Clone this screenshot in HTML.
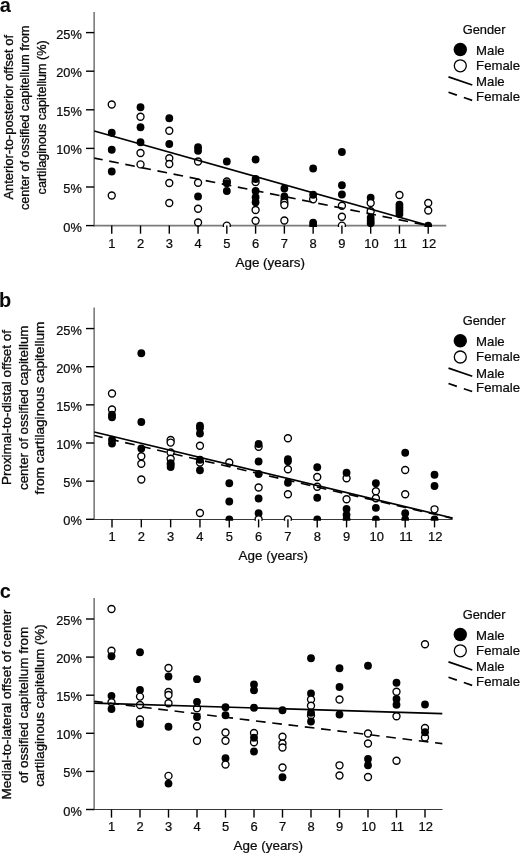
<!DOCTYPE html>
<html lang="en"><head><meta charset="utf-8"><title>Figure</title>
<style>html,body{margin:0;padding:0;background:#fff}body{width:520px;height:854px;overflow:hidden}svg{display:block}text{font-family:"Liberation Sans", sans-serif;fill:#0a0a0a;stroke:#0a0a0a;stroke-width:0.22px}text.yl{stroke-width:0.32px}text.pl{stroke-width:0}</style>
</head><body>
<svg width="520" height="854" viewBox="0 0 520 854">
<rect width="520" height="854" fill="#fff"/>
<g>
<line x1="94.15" y1="12.00" x2="94.15" y2="226.40" stroke="#7b7b7b" stroke-width="1.60"/>
<line x1="94.15" y1="225.60" x2="446.25" y2="225.60" stroke="#7b7b7b" stroke-width="1.60"/>
<clipPath id="clipa"><rect x="94.15" y="12.00" width="356.10" height="215.10"/></clipPath>
<g clip-path="url(#clipa)">
<circle cx="111.75" cy="104.50" r="3.50" fill="#fff" stroke="#000" stroke-width="1.35"/>
<circle cx="111.75" cy="132.75" r="3.90" fill="#000"/>
<circle cx="111.75" cy="149.75" r="3.90" fill="#000"/>
<circle cx="111.75" cy="171.50" r="3.90" fill="#000"/>
<circle cx="111.75" cy="195.50" r="3.50" fill="#fff" stroke="#000" stroke-width="1.35"/>
<circle cx="140.52" cy="107.25" r="3.90" fill="#000"/>
<circle cx="140.52" cy="116.75" r="3.50" fill="#fff" stroke="#000" stroke-width="1.35"/>
<circle cx="140.52" cy="127.25" r="3.90" fill="#000"/>
<circle cx="140.52" cy="142.25" r="3.90" fill="#000"/>
<circle cx="140.52" cy="153.00" r="3.50" fill="#fff" stroke="#000" stroke-width="1.35"/>
<circle cx="140.52" cy="164.40" r="3.50" fill="#fff" stroke="#000" stroke-width="1.35"/>
<circle cx="169.29" cy="118.25" r="3.90" fill="#000"/>
<circle cx="169.29" cy="130.75" r="3.50" fill="#fff" stroke="#000" stroke-width="1.35"/>
<circle cx="169.29" cy="144.00" r="3.90" fill="#000"/>
<circle cx="169.29" cy="158.25" r="3.50" fill="#fff" stroke="#000" stroke-width="1.35"/>
<circle cx="169.29" cy="164.00" r="3.50" fill="#fff" stroke="#000" stroke-width="1.35"/>
<circle cx="169.29" cy="183.00" r="3.50" fill="#fff" stroke="#000" stroke-width="1.35"/>
<circle cx="169.29" cy="203.00" r="3.50" fill="#fff" stroke="#000" stroke-width="1.35"/>
<circle cx="198.06" cy="147.25" r="3.90" fill="#000"/>
<circle cx="198.06" cy="150.75" r="3.90" fill="#000"/>
<circle cx="198.06" cy="161.50" r="3.50" fill="#fff" stroke="#000" stroke-width="1.35"/>
<circle cx="198.06" cy="182.70" r="3.50" fill="#fff" stroke="#000" stroke-width="1.35"/>
<circle cx="198.06" cy="196.50" r="3.90" fill="#000"/>
<circle cx="198.06" cy="208.75" r="3.50" fill="#fff" stroke="#000" stroke-width="1.35"/>
<circle cx="198.06" cy="222.50" r="3.50" fill="#fff" stroke="#000" stroke-width="1.35"/>
<circle cx="226.83" cy="161.50" r="3.90" fill="#000"/>
<circle cx="226.83" cy="181.50" r="3.50" fill="#fff" stroke="#000" stroke-width="1.35"/>
<circle cx="226.83" cy="183.25" r="3.90" fill="#000"/>
<circle cx="226.83" cy="191.00" r="3.90" fill="#000"/>
<circle cx="226.83" cy="225.60" r="3.50" fill="#fff" stroke="#000" stroke-width="1.35"/>
<circle cx="255.60" cy="159.50" r="3.90" fill="#000"/>
<circle cx="255.60" cy="182.00" r="3.50" fill="#fff" stroke="#000" stroke-width="1.35"/>
<circle cx="255.60" cy="179.00" r="3.90" fill="#000"/>
<circle cx="255.60" cy="191.00" r="3.90" fill="#000"/>
<circle cx="255.60" cy="197.25" r="3.90" fill="#000"/>
<circle cx="255.60" cy="202.25" r="3.90" fill="#000"/>
<circle cx="255.60" cy="210.00" r="3.50" fill="#fff" stroke="#000" stroke-width="1.35"/>
<circle cx="255.60" cy="220.75" r="3.50" fill="#fff" stroke="#000" stroke-width="1.35"/>
<circle cx="284.37" cy="188.50" r="3.90" fill="#000"/>
<circle cx="284.37" cy="196.50" r="3.90" fill="#000"/>
<circle cx="284.37" cy="199.75" r="3.90" fill="#000"/>
<circle cx="284.37" cy="202.50" r="3.50" fill="#fff" stroke="#000" stroke-width="1.35"/>
<circle cx="284.37" cy="205.00" r="3.50" fill="#fff" stroke="#000" stroke-width="1.35"/>
<circle cx="284.37" cy="220.50" r="3.50" fill="#fff" stroke="#000" stroke-width="1.35"/>
<circle cx="313.14" cy="168.50" r="3.90" fill="#000"/>
<circle cx="313.14" cy="199.25" r="3.50" fill="#fff" stroke="#000" stroke-width="1.35"/>
<circle cx="313.14" cy="194.75" r="3.90" fill="#000"/>
<circle cx="313.14" cy="222.75" r="3.90" fill="#000"/>
<circle cx="313.14" cy="225.60" r="3.90" fill="#000"/>
<circle cx="341.91" cy="152.00" r="3.90" fill="#000"/>
<circle cx="341.91" cy="185.25" r="3.90" fill="#000"/>
<circle cx="341.91" cy="194.50" r="3.90" fill="#000"/>
<circle cx="341.91" cy="205.75" r="3.50" fill="#fff" stroke="#000" stroke-width="1.35"/>
<circle cx="341.91" cy="216.75" r="3.50" fill="#fff" stroke="#000" stroke-width="1.35"/>
<circle cx="341.91" cy="225.60" r="3.50" fill="#fff" stroke="#000" stroke-width="1.35"/>
<circle cx="370.68" cy="197.75" r="3.90" fill="#000"/>
<circle cx="370.68" cy="203.00" r="3.50" fill="#fff" stroke="#000" stroke-width="1.35"/>
<circle cx="370.68" cy="211.25" r="3.50" fill="#fff" stroke="#000" stroke-width="1.35"/>
<circle cx="370.68" cy="217.75" r="3.90" fill="#000"/>
<circle cx="370.68" cy="220.75" r="3.90" fill="#000"/>
<circle cx="370.68" cy="223.25" r="3.90" fill="#000"/>
<circle cx="399.45" cy="195.00" r="3.50" fill="#fff" stroke="#000" stroke-width="1.35"/>
<circle cx="399.45" cy="204.75" r="3.90" fill="#000"/>
<circle cx="399.45" cy="207.75" r="3.90" fill="#000"/>
<circle cx="399.45" cy="210.75" r="3.90" fill="#000"/>
<circle cx="399.45" cy="214.00" r="3.90" fill="#000"/>
<circle cx="428.22" cy="203.00" r="3.50" fill="#fff" stroke="#000" stroke-width="1.35"/>
<circle cx="428.22" cy="210.50" r="3.50" fill="#fff" stroke="#000" stroke-width="1.35"/>
<circle cx="428.22" cy="225.60" r="3.90" fill="#000"/>
</g>
<line x1="94.25" y1="131.00" x2="427.80" y2="225.30" stroke="#000" stroke-width="1.7"/>
<line x1="94.25" y1="158.10" x2="427.60" y2="225.50" stroke="#000" stroke-width="1.6" stroke-dasharray="9.7 6.7" stroke-dashoffset="1.1"/>
<line x1="86" y1="225.60" x2="94.15" y2="225.60" stroke="#000" stroke-width="1.40"/>
<text x="81.8" y="231.60" font-size="12.80" text-anchor="end">0%</text>
<line x1="86" y1="187.00" x2="94.15" y2="187.00" stroke="#000" stroke-width="1.40"/>
<text x="81.8" y="193.00" font-size="12.80" text-anchor="end">5%</text>
<line x1="86" y1="148.40" x2="94.15" y2="148.40" stroke="#000" stroke-width="1.40"/>
<text x="81.8" y="154.40" font-size="12.80" text-anchor="end">10%</text>
<line x1="86" y1="109.80" x2="94.15" y2="109.80" stroke="#000" stroke-width="1.40"/>
<text x="81.8" y="115.80" font-size="12.80" text-anchor="end">15%</text>
<line x1="86" y1="71.20" x2="94.15" y2="71.20" stroke="#000" stroke-width="1.40"/>
<text x="81.8" y="77.20" font-size="12.80" text-anchor="end">20%</text>
<line x1="86" y1="32.60" x2="94.15" y2="32.60" stroke="#000" stroke-width="1.40"/>
<text x="81.8" y="38.60" font-size="12.80" text-anchor="end">25%</text>
<line x1="111.75" y1="225.60" x2="111.75" y2="233.70" stroke="#000" stroke-width="1.40"/>
<text x="111.75" y="247.50" font-size="12.95" text-anchor="middle">1</text>
<line x1="140.52" y1="225.60" x2="140.52" y2="233.70" stroke="#000" stroke-width="1.40"/>
<text x="140.52" y="247.50" font-size="12.95" text-anchor="middle">2</text>
<line x1="169.29" y1="225.60" x2="169.29" y2="233.70" stroke="#000" stroke-width="1.40"/>
<text x="169.29" y="247.50" font-size="12.95" text-anchor="middle">3</text>
<line x1="198.06" y1="225.60" x2="198.06" y2="233.70" stroke="#000" stroke-width="1.40"/>
<text x="198.06" y="247.50" font-size="12.95" text-anchor="middle">4</text>
<line x1="226.83" y1="225.60" x2="226.83" y2="233.70" stroke="#000" stroke-width="1.40"/>
<text x="226.83" y="247.50" font-size="12.95" text-anchor="middle">5</text>
<line x1="255.60" y1="225.60" x2="255.60" y2="233.70" stroke="#000" stroke-width="1.40"/>
<text x="255.60" y="247.50" font-size="12.95" text-anchor="middle">6</text>
<line x1="284.37" y1="225.60" x2="284.37" y2="233.70" stroke="#000" stroke-width="1.40"/>
<text x="284.37" y="247.50" font-size="12.95" text-anchor="middle">7</text>
<line x1="313.14" y1="225.60" x2="313.14" y2="233.70" stroke="#000" stroke-width="1.40"/>
<text x="313.14" y="247.50" font-size="12.95" text-anchor="middle">8</text>
<line x1="341.91" y1="225.60" x2="341.91" y2="233.70" stroke="#000" stroke-width="1.40"/>
<text x="341.91" y="247.50" font-size="12.95" text-anchor="middle">9</text>
<line x1="370.68" y1="225.60" x2="370.68" y2="233.70" stroke="#000" stroke-width="1.40"/>
<text x="371.48" y="247.50" font-size="12.95" text-anchor="middle">10</text>
<line x1="399.45" y1="225.60" x2="399.45" y2="233.70" stroke="#000" stroke-width="1.40"/>
<text x="400.25" y="247.50" font-size="12.95" text-anchor="middle">11</text>
<line x1="428.22" y1="225.60" x2="428.22" y2="233.70" stroke="#000" stroke-width="1.40"/>
<text x="429.02" y="247.50" font-size="12.95" text-anchor="middle">12</text>
<text x="270.20" y="266.50" font-size="13.45" text-anchor="middle">Age (years)</text>
<text x="-0.3" y="11.60" font-size="20" font-weight="bold" class="pl">a</text>
<text transform="translate(13.30 117.30) rotate(-90)" font-size="13.10" text-anchor="middle" class="yl" textLength="164.6" lengthAdjust="spacingAndGlyphs">Anterior-to-posterior offset of</text>
<text transform="translate(29.30 117.80) rotate(-90)" font-size="13.10" text-anchor="middle" class="yl" textLength="184.5" lengthAdjust="spacingAndGlyphs">center of ossified capitellum from</text>
<text transform="translate(45.50 117.40) rotate(-90)" font-size="13.10" text-anchor="middle" class="yl" textLength="154.0" lengthAdjust="spacingAndGlyphs">cartilaginous capitellum (%)</text>
<text x="462.7" y="33.55" font-size="12.85">Gender</text>
<circle cx="460.3" cy="49.50" r="6.7" fill="#000"/>
<circle cx="460.3" cy="65.80" r="6.0" fill="#fff" stroke="#000" stroke-width="1.3"/>
<line x1="448.5" y1="76.90" x2="472.3" y2="85.00" stroke="#000" stroke-width="1.7"/>
<line x1="448.5" y1="92.30" x2="472.3" y2="100.40" stroke="#000" stroke-width="1.7" stroke-dasharray="8.8 7.4"/>
<text x="476.1" y="54.50" font-size="13.20">Male</text>
<text x="476.1" y="69.60" font-size="13.20">Female</text>
<text x="476.1" y="86.30" font-size="13.20">Male</text>
<text x="476.1" y="101.00" font-size="13.20">Female</text>
</g>
<g>
<line x1="94.15" y1="307.50" x2="94.15" y2="520.10" stroke="#7b7b7b" stroke-width="1.60"/>
<line x1="94.15" y1="519.50" x2="452.50" y2="519.50" stroke="#383838" stroke-width="1.15"/>
<clipPath id="clipb"><rect x="94.15" y="307.50" width="362.35" height="213.30"/></clipPath>
<g clip-path="url(#clipb)">
<circle cx="112.00" cy="393.50" r="3.50" fill="#fff" stroke="#000" stroke-width="1.35"/>
<circle cx="112.00" cy="409.50" r="3.50" fill="#fff" stroke="#000" stroke-width="1.35"/>
<circle cx="112.00" cy="414.75" r="3.90" fill="#000"/>
<circle cx="112.00" cy="417.25" r="3.90" fill="#000"/>
<circle cx="112.00" cy="439.75" r="3.90" fill="#000"/>
<circle cx="112.00" cy="443.50" r="3.90" fill="#000"/>
<circle cx="141.32" cy="353.25" r="3.90" fill="#000"/>
<circle cx="141.32" cy="422.00" r="3.90" fill="#000"/>
<circle cx="141.32" cy="448.50" r="3.90" fill="#000"/>
<circle cx="141.32" cy="456.25" r="3.50" fill="#fff" stroke="#000" stroke-width="1.35"/>
<circle cx="141.32" cy="463.75" r="3.50" fill="#fff" stroke="#000" stroke-width="1.35"/>
<circle cx="141.32" cy="479.50" r="3.50" fill="#fff" stroke="#000" stroke-width="1.35"/>
<circle cx="170.64" cy="440.00" r="3.50" fill="#fff" stroke="#000" stroke-width="1.35"/>
<circle cx="170.64" cy="442.60" r="3.50" fill="#fff" stroke="#000" stroke-width="1.35"/>
<circle cx="170.64" cy="452.50" r="3.50" fill="#fff" stroke="#000" stroke-width="1.35"/>
<circle cx="170.64" cy="458.75" r="3.50" fill="#fff" stroke="#000" stroke-width="1.35"/>
<circle cx="170.64" cy="463.25" r="3.90" fill="#000"/>
<circle cx="170.64" cy="464.75" r="3.90" fill="#000"/>
<circle cx="170.64" cy="467.00" r="3.90" fill="#000"/>
<circle cx="199.96" cy="425.75" r="3.90" fill="#000"/>
<circle cx="199.96" cy="428.00" r="3.90" fill="#000"/>
<circle cx="199.96" cy="433.50" r="3.90" fill="#000"/>
<circle cx="199.96" cy="445.75" r="3.50" fill="#fff" stroke="#000" stroke-width="1.35"/>
<circle cx="199.96" cy="462.50" r="3.50" fill="#fff" stroke="#000" stroke-width="1.35"/>
<circle cx="199.96" cy="459.75" r="3.90" fill="#000"/>
<circle cx="199.96" cy="470.25" r="3.90" fill="#000"/>
<circle cx="199.96" cy="513.00" r="3.50" fill="#fff" stroke="#000" stroke-width="1.35"/>
<circle cx="229.28" cy="462.50" r="3.50" fill="#fff" stroke="#000" stroke-width="1.35"/>
<circle cx="229.28" cy="483.25" r="3.90" fill="#000"/>
<circle cx="229.28" cy="501.50" r="3.90" fill="#000"/>
<circle cx="229.28" cy="519.30" r="3.90" fill="#000"/>
<circle cx="258.60" cy="446.75" r="3.50" fill="#fff" stroke="#000" stroke-width="1.35"/>
<circle cx="258.60" cy="444.00" r="3.90" fill="#000"/>
<circle cx="258.60" cy="461.50" r="3.90" fill="#000"/>
<circle cx="258.60" cy="474.00" r="3.90" fill="#000"/>
<circle cx="258.60" cy="487.50" r="3.50" fill="#fff" stroke="#000" stroke-width="1.35"/>
<circle cx="258.60" cy="498.50" r="3.90" fill="#000"/>
<circle cx="258.60" cy="513.25" r="3.90" fill="#000"/>
<circle cx="258.60" cy="519.30" r="3.50" fill="#fff" stroke="#000" stroke-width="1.35"/>
<circle cx="287.92" cy="438.25" r="3.50" fill="#fff" stroke="#000" stroke-width="1.35"/>
<circle cx="287.92" cy="459.25" r="3.90" fill="#000"/>
<circle cx="287.92" cy="461.25" r="3.90" fill="#000"/>
<circle cx="287.92" cy="469.25" r="3.50" fill="#fff" stroke="#000" stroke-width="1.35"/>
<circle cx="287.92" cy="482.75" r="3.90" fill="#000"/>
<circle cx="287.92" cy="494.25" r="3.50" fill="#fff" stroke="#000" stroke-width="1.35"/>
<circle cx="287.92" cy="519.30" r="3.50" fill="#fff" stroke="#000" stroke-width="1.35"/>
<circle cx="317.24" cy="467.25" r="3.90" fill="#000"/>
<circle cx="317.24" cy="477.00" r="3.50" fill="#fff" stroke="#000" stroke-width="1.35"/>
<circle cx="317.24" cy="486.75" r="3.50" fill="#fff" stroke="#000" stroke-width="1.35"/>
<circle cx="317.24" cy="497.75" r="3.90" fill="#000"/>
<circle cx="317.24" cy="519.30" r="3.90" fill="#000"/>
<circle cx="346.56" cy="478.25" r="3.50" fill="#fff" stroke="#000" stroke-width="1.35"/>
<circle cx="346.56" cy="472.75" r="3.90" fill="#000"/>
<circle cx="346.56" cy="499.25" r="3.50" fill="#fff" stroke="#000" stroke-width="1.35"/>
<circle cx="346.56" cy="509.00" r="3.90" fill="#000"/>
<circle cx="346.56" cy="514.85" r="3.90" fill="#000"/>
<circle cx="346.56" cy="519.30" r="3.90" fill="#000"/>
<circle cx="375.88" cy="483.25" r="3.90" fill="#000"/>
<circle cx="375.88" cy="491.25" r="3.50" fill="#fff" stroke="#000" stroke-width="1.35"/>
<circle cx="375.88" cy="498.25" r="3.50" fill="#fff" stroke="#000" stroke-width="1.35"/>
<circle cx="375.88" cy="507.85" r="3.90" fill="#000"/>
<circle cx="375.88" cy="519.30" r="3.90" fill="#000"/>
<circle cx="405.20" cy="452.75" r="3.90" fill="#000"/>
<circle cx="405.20" cy="470.00" r="3.50" fill="#fff" stroke="#000" stroke-width="1.35"/>
<circle cx="405.20" cy="494.25" r="3.50" fill="#fff" stroke="#000" stroke-width="1.35"/>
<circle cx="405.20" cy="513.25" r="3.90" fill="#000"/>
<circle cx="405.20" cy="519.30" r="3.90" fill="#000"/>
<circle cx="434.52" cy="474.75" r="3.90" fill="#000"/>
<circle cx="434.52" cy="486.00" r="3.90" fill="#000"/>
<circle cx="434.52" cy="509.30" r="3.50" fill="#fff" stroke="#000" stroke-width="1.35"/>
<circle cx="434.52" cy="519.30" r="3.90" fill="#000"/>
</g>
<line x1="94.25" y1="432.00" x2="452.50" y2="518.00" stroke="#000" stroke-width="1.7"/>
<line x1="94.25" y1="435.50" x2="452.50" y2="518.40" stroke="#000" stroke-width="1.6" stroke-dasharray="9.7 6.7" stroke-dashoffset="1.1"/>
<line x1="86" y1="519.30" x2="94.15" y2="519.30" stroke="#000" stroke-width="1.40"/>
<text x="81.8" y="525.30" font-size="12.80" text-anchor="end">0%</text>
<line x1="86" y1="481.15" x2="94.15" y2="481.15" stroke="#000" stroke-width="1.40"/>
<text x="81.8" y="487.15" font-size="12.80" text-anchor="end">5%</text>
<line x1="86" y1="443.00" x2="94.15" y2="443.00" stroke="#000" stroke-width="1.40"/>
<text x="81.8" y="449.00" font-size="12.80" text-anchor="end">10%</text>
<line x1="86" y1="404.85" x2="94.15" y2="404.85" stroke="#000" stroke-width="1.40"/>
<text x="81.8" y="410.85" font-size="12.80" text-anchor="end">15%</text>
<line x1="86" y1="366.70" x2="94.15" y2="366.70" stroke="#000" stroke-width="1.40"/>
<text x="81.8" y="372.70" font-size="12.80" text-anchor="end">20%</text>
<line x1="86" y1="328.55" x2="94.15" y2="328.55" stroke="#000" stroke-width="1.40"/>
<text x="81.8" y="334.55" font-size="12.80" text-anchor="end">25%</text>
<line x1="112.00" y1="519.30" x2="112.00" y2="527.40" stroke="#000" stroke-width="1.40"/>
<text x="112.00" y="541.20" font-size="12.95" text-anchor="middle">1</text>
<line x1="141.32" y1="519.30" x2="141.32" y2="527.40" stroke="#000" stroke-width="1.40"/>
<text x="141.32" y="541.20" font-size="12.95" text-anchor="middle">2</text>
<line x1="170.64" y1="519.30" x2="170.64" y2="527.40" stroke="#000" stroke-width="1.40"/>
<text x="170.64" y="541.20" font-size="12.95" text-anchor="middle">3</text>
<line x1="199.96" y1="519.30" x2="199.96" y2="527.40" stroke="#000" stroke-width="1.40"/>
<text x="199.96" y="541.20" font-size="12.95" text-anchor="middle">4</text>
<line x1="229.28" y1="519.30" x2="229.28" y2="527.40" stroke="#000" stroke-width="1.40"/>
<text x="229.28" y="541.20" font-size="12.95" text-anchor="middle">5</text>
<line x1="258.60" y1="519.30" x2="258.60" y2="527.40" stroke="#000" stroke-width="1.40"/>
<text x="258.60" y="541.20" font-size="12.95" text-anchor="middle">6</text>
<line x1="287.92" y1="519.30" x2="287.92" y2="527.40" stroke="#000" stroke-width="1.40"/>
<text x="287.92" y="541.20" font-size="12.95" text-anchor="middle">7</text>
<line x1="317.24" y1="519.30" x2="317.24" y2="527.40" stroke="#000" stroke-width="1.40"/>
<text x="317.24" y="541.20" font-size="12.95" text-anchor="middle">8</text>
<line x1="346.56" y1="519.30" x2="346.56" y2="527.40" stroke="#000" stroke-width="1.40"/>
<text x="346.56" y="541.20" font-size="12.95" text-anchor="middle">9</text>
<line x1="375.88" y1="519.30" x2="375.88" y2="527.40" stroke="#000" stroke-width="1.40"/>
<text x="376.68" y="541.20" font-size="12.95" text-anchor="middle">10</text>
<line x1="405.20" y1="519.30" x2="405.20" y2="527.40" stroke="#000" stroke-width="1.40"/>
<text x="406.00" y="541.20" font-size="12.95" text-anchor="middle">11</text>
<line x1="434.52" y1="519.30" x2="434.52" y2="527.40" stroke="#000" stroke-width="1.40"/>
<text x="435.32" y="541.20" font-size="12.95" text-anchor="middle">12</text>
<text x="273.32" y="560.20" font-size="13.45" text-anchor="middle">Age (years)</text>
<text x="-1.0" y="306.90" font-size="20" font-weight="bold" class="pl">b</text>
<text transform="translate(11.30 407.50) rotate(-90)" font-size="13.10" text-anchor="middle" class="yl" textLength="155.0" lengthAdjust="spacingAndGlyphs">Proximal-to-distal offset of</text>
<text transform="translate(27.70 407.80) rotate(-90)" font-size="13.10" text-anchor="middle" class="yl" textLength="164.4" lengthAdjust="spacingAndGlyphs">center of ossified capitellum</text>
<text transform="translate(44.10 408.00) rotate(-90)" font-size="13.10" text-anchor="middle" class="yl" textLength="172.8" lengthAdjust="spacingAndGlyphs">from cartilaginous capitellum</text>
<text x="462.7" y="324.75" font-size="12.85">Gender</text>
<circle cx="460.3" cy="340.70" r="6.7" fill="#000"/>
<circle cx="460.3" cy="357.00" r="6.0" fill="#fff" stroke="#000" stroke-width="1.3"/>
<line x1="448.5" y1="368.10" x2="472.3" y2="376.20" stroke="#000" stroke-width="1.7"/>
<line x1="448.5" y1="383.50" x2="472.3" y2="391.60" stroke="#000" stroke-width="1.7" stroke-dasharray="8.8 7.4"/>
<text x="476.1" y="345.70" font-size="13.20">Male</text>
<text x="476.1" y="360.80" font-size="13.20">Female</text>
<text x="476.1" y="377.50" font-size="13.20">Male</text>
<text x="476.1" y="392.20" font-size="13.20">Female</text>
</g>
<g>
<line x1="94.15" y1="598.00" x2="94.15" y2="810.30" stroke="#7b7b7b" stroke-width="1.60"/>
<line x1="94.15" y1="809.50" x2="442.50" y2="809.50" stroke="#383838" stroke-width="1.15"/>
<clipPath id="clipc"><rect x="94.15" y="598.00" width="352.35" height="213.00"/></clipPath>
<g clip-path="url(#clipc)">
<circle cx="111.50" cy="609.00" r="3.50" fill="#fff" stroke="#000" stroke-width="1.35"/>
<circle cx="111.50" cy="650.75" r="3.50" fill="#fff" stroke="#000" stroke-width="1.35"/>
<circle cx="111.50" cy="656.25" r="3.90" fill="#000"/>
<circle cx="111.50" cy="695.85" r="3.90" fill="#000"/>
<circle cx="111.50" cy="702.30" r="3.50" fill="#fff" stroke="#000" stroke-width="1.35"/>
<circle cx="111.50" cy="709.00" r="3.90" fill="#000"/>
<circle cx="140.00" cy="652.25" r="3.90" fill="#000"/>
<circle cx="140.00" cy="690.00" r="3.90" fill="#000"/>
<circle cx="140.00" cy="696.60" r="3.50" fill="#fff" stroke="#000" stroke-width="1.35"/>
<circle cx="140.00" cy="705.00" r="3.50" fill="#fff" stroke="#000" stroke-width="1.35"/>
<circle cx="140.00" cy="719.50" r="3.50" fill="#fff" stroke="#000" stroke-width="1.35"/>
<circle cx="140.00" cy="724.00" r="3.90" fill="#000"/>
<circle cx="168.50" cy="668.00" r="3.50" fill="#fff" stroke="#000" stroke-width="1.35"/>
<circle cx="168.50" cy="676.50" r="3.90" fill="#000"/>
<circle cx="168.50" cy="692.00" r="3.50" fill="#fff" stroke="#000" stroke-width="1.35"/>
<circle cx="168.50" cy="695.00" r="3.50" fill="#fff" stroke="#000" stroke-width="1.35"/>
<circle cx="168.50" cy="703.20" r="3.50" fill="#fff" stroke="#000" stroke-width="1.35"/>
<circle cx="168.50" cy="726.75" r="3.90" fill="#000"/>
<circle cx="168.50" cy="775.90" r="3.50" fill="#fff" stroke="#000" stroke-width="1.35"/>
<circle cx="168.50" cy="783.55" r="3.90" fill="#000"/>
<circle cx="197.00" cy="679.15" r="3.90" fill="#000"/>
<circle cx="197.00" cy="701.85" r="3.90" fill="#000"/>
<circle cx="197.00" cy="708.25" r="3.50" fill="#fff" stroke="#000" stroke-width="1.35"/>
<circle cx="197.00" cy="717.00" r="3.90" fill="#000"/>
<circle cx="197.00" cy="726.25" r="3.50" fill="#fff" stroke="#000" stroke-width="1.35"/>
<circle cx="197.00" cy="740.75" r="3.50" fill="#fff" stroke="#000" stroke-width="1.35"/>
<circle cx="225.50" cy="707.25" r="3.90" fill="#000"/>
<circle cx="225.50" cy="715.25" r="3.90" fill="#000"/>
<circle cx="225.50" cy="732.50" r="3.50" fill="#fff" stroke="#000" stroke-width="1.35"/>
<circle cx="225.50" cy="740.75" r="3.50" fill="#fff" stroke="#000" stroke-width="1.35"/>
<circle cx="225.50" cy="758.25" r="3.90" fill="#000"/>
<circle cx="225.50" cy="764.50" r="3.50" fill="#fff" stroke="#000" stroke-width="1.35"/>
<circle cx="254.00" cy="684.50" r="3.90" fill="#000"/>
<circle cx="254.00" cy="690.25" r="3.90" fill="#000"/>
<circle cx="254.00" cy="707.75" r="3.90" fill="#000"/>
<circle cx="254.00" cy="733.00" r="3.50" fill="#fff" stroke="#000" stroke-width="1.35"/>
<circle cx="254.00" cy="742.20" r="3.50" fill="#fff" stroke="#000" stroke-width="1.35"/>
<circle cx="254.00" cy="737.75" r="3.90" fill="#000"/>
<circle cx="254.00" cy="751.50" r="3.90" fill="#000"/>
<circle cx="282.50" cy="710.25" r="3.90" fill="#000"/>
<circle cx="282.50" cy="736.75" r="3.50" fill="#fff" stroke="#000" stroke-width="1.35"/>
<circle cx="282.50" cy="743.50" r="3.50" fill="#fff" stroke="#000" stroke-width="1.35"/>
<circle cx="282.50" cy="747.50" r="3.50" fill="#fff" stroke="#000" stroke-width="1.35"/>
<circle cx="282.50" cy="767.50" r="3.50" fill="#fff" stroke="#000" stroke-width="1.35"/>
<circle cx="282.50" cy="777.25" r="3.90" fill="#000"/>
<circle cx="311.00" cy="658.25" r="3.90" fill="#000"/>
<circle cx="311.00" cy="693.50" r="3.90" fill="#000"/>
<circle cx="311.00" cy="699.50" r="3.50" fill="#fff" stroke="#000" stroke-width="1.35"/>
<circle cx="311.00" cy="705.75" r="3.50" fill="#fff" stroke="#000" stroke-width="1.35"/>
<circle cx="311.00" cy="715.20" r="3.50" fill="#fff" stroke="#000" stroke-width="1.35"/>
<circle cx="311.00" cy="712.75" r="3.90" fill="#000"/>
<circle cx="311.00" cy="721.50" r="3.90" fill="#000"/>
<circle cx="339.50" cy="668.25" r="3.90" fill="#000"/>
<circle cx="339.50" cy="687.00" r="3.90" fill="#000"/>
<circle cx="339.50" cy="699.50" r="3.50" fill="#fff" stroke="#000" stroke-width="1.35"/>
<circle cx="339.50" cy="714.50" r="3.90" fill="#000"/>
<circle cx="339.50" cy="765.30" r="3.50" fill="#fff" stroke="#000" stroke-width="1.35"/>
<circle cx="339.50" cy="775.50" r="3.50" fill="#fff" stroke="#000" stroke-width="1.35"/>
<circle cx="368.00" cy="665.75" r="3.90" fill="#000"/>
<circle cx="368.00" cy="733.50" r="3.50" fill="#fff" stroke="#000" stroke-width="1.35"/>
<circle cx="368.00" cy="743.50" r="3.50" fill="#fff" stroke="#000" stroke-width="1.35"/>
<circle cx="368.00" cy="759.00" r="3.90" fill="#000"/>
<circle cx="368.00" cy="765.25" r="3.90" fill="#000"/>
<circle cx="368.00" cy="777.00" r="3.50" fill="#fff" stroke="#000" stroke-width="1.35"/>
<circle cx="396.50" cy="682.75" r="3.90" fill="#000"/>
<circle cx="396.50" cy="691.75" r="3.50" fill="#fff" stroke="#000" stroke-width="1.35"/>
<circle cx="396.50" cy="699.00" r="3.90" fill="#000"/>
<circle cx="396.50" cy="704.75" r="3.90" fill="#000"/>
<circle cx="396.50" cy="716.25" r="3.50" fill="#fff" stroke="#000" stroke-width="1.35"/>
<circle cx="396.50" cy="760.75" r="3.50" fill="#fff" stroke="#000" stroke-width="1.35"/>
<circle cx="425.00" cy="644.25" r="3.50" fill="#fff" stroke="#000" stroke-width="1.35"/>
<circle cx="425.00" cy="704.50" r="3.90" fill="#000"/>
<circle cx="425.00" cy="728.00" r="3.50" fill="#fff" stroke="#000" stroke-width="1.35"/>
<circle cx="425.00" cy="737.50" r="3.50" fill="#fff" stroke="#000" stroke-width="1.35"/>
<circle cx="425.00" cy="732.25" r="3.90" fill="#000"/>
</g>
<line x1="94.25" y1="703.10" x2="442.30" y2="713.60" stroke="#000" stroke-width="1.7"/>
<line x1="94.25" y1="701.30" x2="442.30" y2="743.60" stroke="#000" stroke-width="1.6" stroke-dasharray="9.7 6.7" stroke-dashoffset="1.1"/>
<line x1="86" y1="809.50" x2="94.15" y2="809.50" stroke="#000" stroke-width="1.40"/>
<text x="81.8" y="815.50" font-size="12.80" text-anchor="end">0%</text>
<line x1="86" y1="771.40" x2="94.15" y2="771.40" stroke="#000" stroke-width="1.40"/>
<text x="81.8" y="777.40" font-size="12.80" text-anchor="end">5%</text>
<line x1="86" y1="733.30" x2="94.15" y2="733.30" stroke="#000" stroke-width="1.40"/>
<text x="81.8" y="739.30" font-size="12.80" text-anchor="end">10%</text>
<line x1="86" y1="695.20" x2="94.15" y2="695.20" stroke="#000" stroke-width="1.40"/>
<text x="81.8" y="701.20" font-size="12.80" text-anchor="end">15%</text>
<line x1="86" y1="657.10" x2="94.15" y2="657.10" stroke="#000" stroke-width="1.40"/>
<text x="81.8" y="663.10" font-size="12.80" text-anchor="end">20%</text>
<line x1="86" y1="619.00" x2="94.15" y2="619.00" stroke="#000" stroke-width="1.40"/>
<text x="81.8" y="625.00" font-size="12.80" text-anchor="end">25%</text>
<line x1="111.50" y1="809.50" x2="111.50" y2="817.60" stroke="#000" stroke-width="1.40"/>
<text x="111.50" y="831.40" font-size="12.95" text-anchor="middle">1</text>
<line x1="140.00" y1="809.50" x2="140.00" y2="817.60" stroke="#000" stroke-width="1.40"/>
<text x="140.00" y="831.40" font-size="12.95" text-anchor="middle">2</text>
<line x1="168.50" y1="809.50" x2="168.50" y2="817.60" stroke="#000" stroke-width="1.40"/>
<text x="168.50" y="831.40" font-size="12.95" text-anchor="middle">3</text>
<line x1="197.00" y1="809.50" x2="197.00" y2="817.60" stroke="#000" stroke-width="1.40"/>
<text x="197.00" y="831.40" font-size="12.95" text-anchor="middle">4</text>
<line x1="225.50" y1="809.50" x2="225.50" y2="817.60" stroke="#000" stroke-width="1.40"/>
<text x="225.50" y="831.40" font-size="12.95" text-anchor="middle">5</text>
<line x1="254.00" y1="809.50" x2="254.00" y2="817.60" stroke="#000" stroke-width="1.40"/>
<text x="254.00" y="831.40" font-size="12.95" text-anchor="middle">6</text>
<line x1="282.50" y1="809.50" x2="282.50" y2="817.60" stroke="#000" stroke-width="1.40"/>
<text x="282.50" y="831.40" font-size="12.95" text-anchor="middle">7</text>
<line x1="311.00" y1="809.50" x2="311.00" y2="817.60" stroke="#000" stroke-width="1.40"/>
<text x="311.00" y="831.40" font-size="12.95" text-anchor="middle">8</text>
<line x1="339.50" y1="809.50" x2="339.50" y2="817.60" stroke="#000" stroke-width="1.40"/>
<text x="339.50" y="831.40" font-size="12.95" text-anchor="middle">9</text>
<line x1="368.00" y1="809.50" x2="368.00" y2="817.60" stroke="#000" stroke-width="1.40"/>
<text x="368.80" y="831.40" font-size="12.95" text-anchor="middle">10</text>
<line x1="396.50" y1="809.50" x2="396.50" y2="817.60" stroke="#000" stroke-width="1.40"/>
<text x="397.30" y="831.40" font-size="12.95" text-anchor="middle">11</text>
<line x1="425.00" y1="809.50" x2="425.00" y2="817.60" stroke="#000" stroke-width="1.40"/>
<text x="425.80" y="831.40" font-size="12.95" text-anchor="middle">12</text>
<text x="268.32" y="850.40" font-size="13.45" text-anchor="middle">Age (years)</text>
<text x="-0.3" y="597.70" font-size="20" font-weight="bold" class="pl">c</text>
<text transform="translate(11.30 704.65) rotate(-90)" font-size="13.10" text-anchor="middle" class="yl" textLength="189.7" lengthAdjust="spacingAndGlyphs">Medial-to-lateral offset of center</text>
<text transform="translate(27.70 704.90) rotate(-90)" font-size="13.10" text-anchor="middle" class="yl" textLength="156.2" lengthAdjust="spacingAndGlyphs">of ossified capitellum from</text>
<text transform="translate(44.10 705.50) rotate(-90)" font-size="13.10" text-anchor="middle" class="yl" textLength="162.6" lengthAdjust="spacingAndGlyphs">cartilaginous capitellum (%)</text>
<text x="462.7" y="618.55" font-size="12.85">Gender</text>
<circle cx="460.3" cy="634.50" r="6.7" fill="#000"/>
<circle cx="460.3" cy="650.80" r="6.0" fill="#fff" stroke="#000" stroke-width="1.3"/>
<line x1="448.5" y1="661.90" x2="472.3" y2="670.00" stroke="#000" stroke-width="1.7"/>
<line x1="448.5" y1="677.30" x2="472.3" y2="685.40" stroke="#000" stroke-width="1.7" stroke-dasharray="8.8 7.4"/>
<text x="476.1" y="639.50" font-size="13.20">Male</text>
<text x="476.1" y="654.60" font-size="13.20">Female</text>
<text x="476.1" y="671.30" font-size="13.20">Male</text>
<text x="476.1" y="686.00" font-size="13.20">Female</text>
</g>
</svg>
</body></html>
